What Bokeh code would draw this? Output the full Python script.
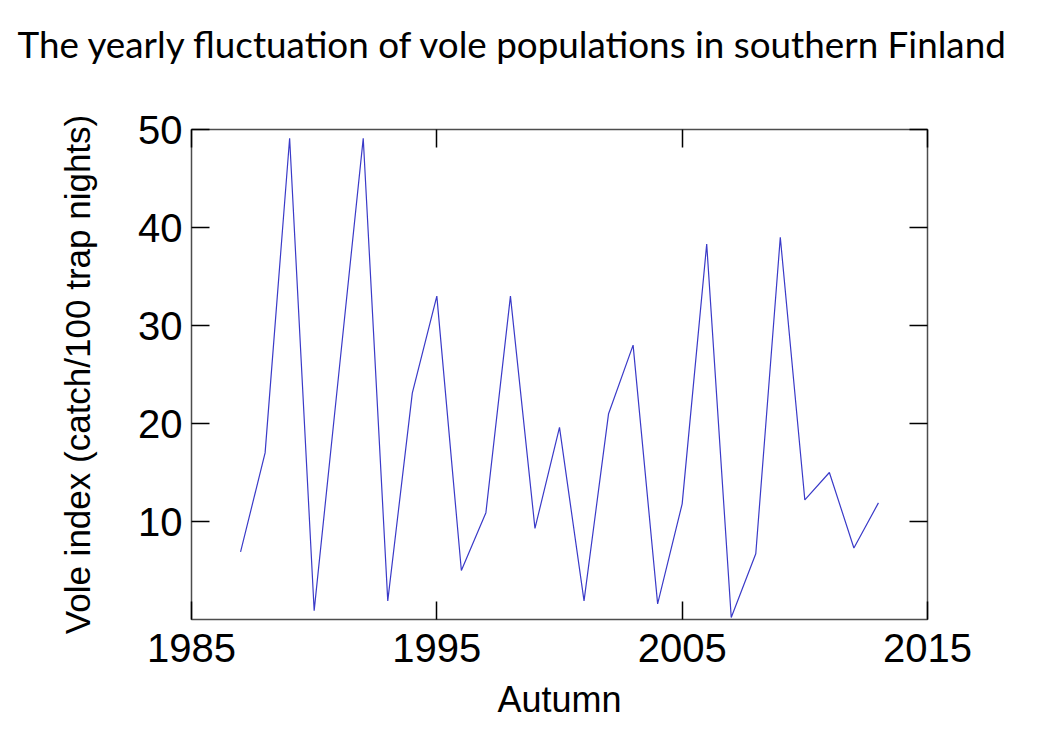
from bokeh.plotting import figure
from bokeh.models import Range1d, FixedTicker, LinearAxis, Title
from bokeh.embed import file_html
from bokeh.resources import INLINE

# Data
years = [1987, 1988, 1989, 1990, 1991, 1992, 1993, 1994, 1995, 1996, 1997, 1998, 1999,
         2000, 2001, 2002, 2003, 2004, 2005, 2006, 2007, 2008, 2009, 2010, 2011, 2012, 2013]
vole_index = [6.9, 17.0, 49.1, 0.9, 25.0, 49.1, 1.9, 23.1, 33.0, 5.0, 10.9, 33.0, 9.3,
              19.6, 1.9, 21.0, 28.0, 1.6, 11.8, 38.3, 0.2, 6.7, 39.0, 12.2, 15.0, 7.3, 11.9]
x_ticks = [1985, 1995, 2005, 2015]
y_ticks = [10, 20, 30, 40, 50]

title_text = "The yearly fluctuation of vole populations in southern Finland"
x_label = "Autumn"
y_label = "Vole index (catch/100 trap nights)"

TICK_FONT = "Liberation Sans"

p = figure(width=1063, height=750, output_backend="svg", toolbar_location=None,
           x_range=Range1d(1985, 2015), y_range=Range1d(0, 50),
           min_border_left=191, min_border_right=136,
           min_border_top=129, min_border_bottom=131)
p.background_fill_color = "white"
p.border_fill_color = "white"
p.outline_line_color = "#4d4d4d"
p.outline_line_width = 1.5
p.xgrid.visible = False
p.ygrid.visible = False

p.line(years, vole_index, line_color="#3a3ac8", line_width=1.2)

def style_axis(ax, ticks, show_labels):
    ax.ticker = FixedTicker(ticks=ticks)
    ax.axis_line_color = None
    ax.major_tick_in = 18
    ax.major_tick_out = 0
    ax.major_tick_line_color = "black"
    ax.major_tick_line_width = 1.5
    ax.minor_tick_line_color = None
    if show_labels:
        ax.major_label_text_font = TICK_FONT
        ax.major_label_text_font_size = "40px"
        ax.major_label_text_color = "black"
    else:
        ax.major_label_text_font_size = "0px"
        ax.major_label_text_color = None

xa = p.xaxis[0]
style_axis(xa, x_ticks, True)
xa.major_label_standoff = 14
xa.axis_label = x_label
xa.axis_label_text_font = TICK_FONT
xa.axis_label_text_font_size = "36px"
xa.axis_label_text_font_style = "normal"
xa.axis_label_text_color = "black"
xa.axis_label_standoff = 14

ya = p.yaxis[0]
style_axis(ya, y_ticks, True)
ya.major_label_standoff = 9
ya.axis_label = y_label
ya.axis_label_text_font = TICK_FONT
ya.axis_label_text_font_size = "35px"
ya.axis_label_text_font_style = "normal"
ya.axis_label_text_color = "black"
ya.axis_label_standoff = 38

ra = LinearAxis()
style_axis(ra, y_ticks, False)
p.add_layout(ra, "right")

ta = LinearAxis()
style_axis(ta, x_ticks, False)
p.add_layout(ta, "above")

p.title.text = ""

# blank spacer between the frame and the title (added first = nearest the frame)
spacer = Title(text=" ", text_font_size="10px", text_color="white",
               vertical_align="middle", standoff=50)
p.add_layout(spacer, "above")

main_title = Title(text=title_text, text_font="Lato", text_font_size="36.8px",
                   text_font_style="normal", text_color="black",
                   align="left", offset=-174, vertical_align="middle", standoff=0)
p.add_layout(main_title, "above")

open("out.html", "w").write(file_html(p, INLINE))
